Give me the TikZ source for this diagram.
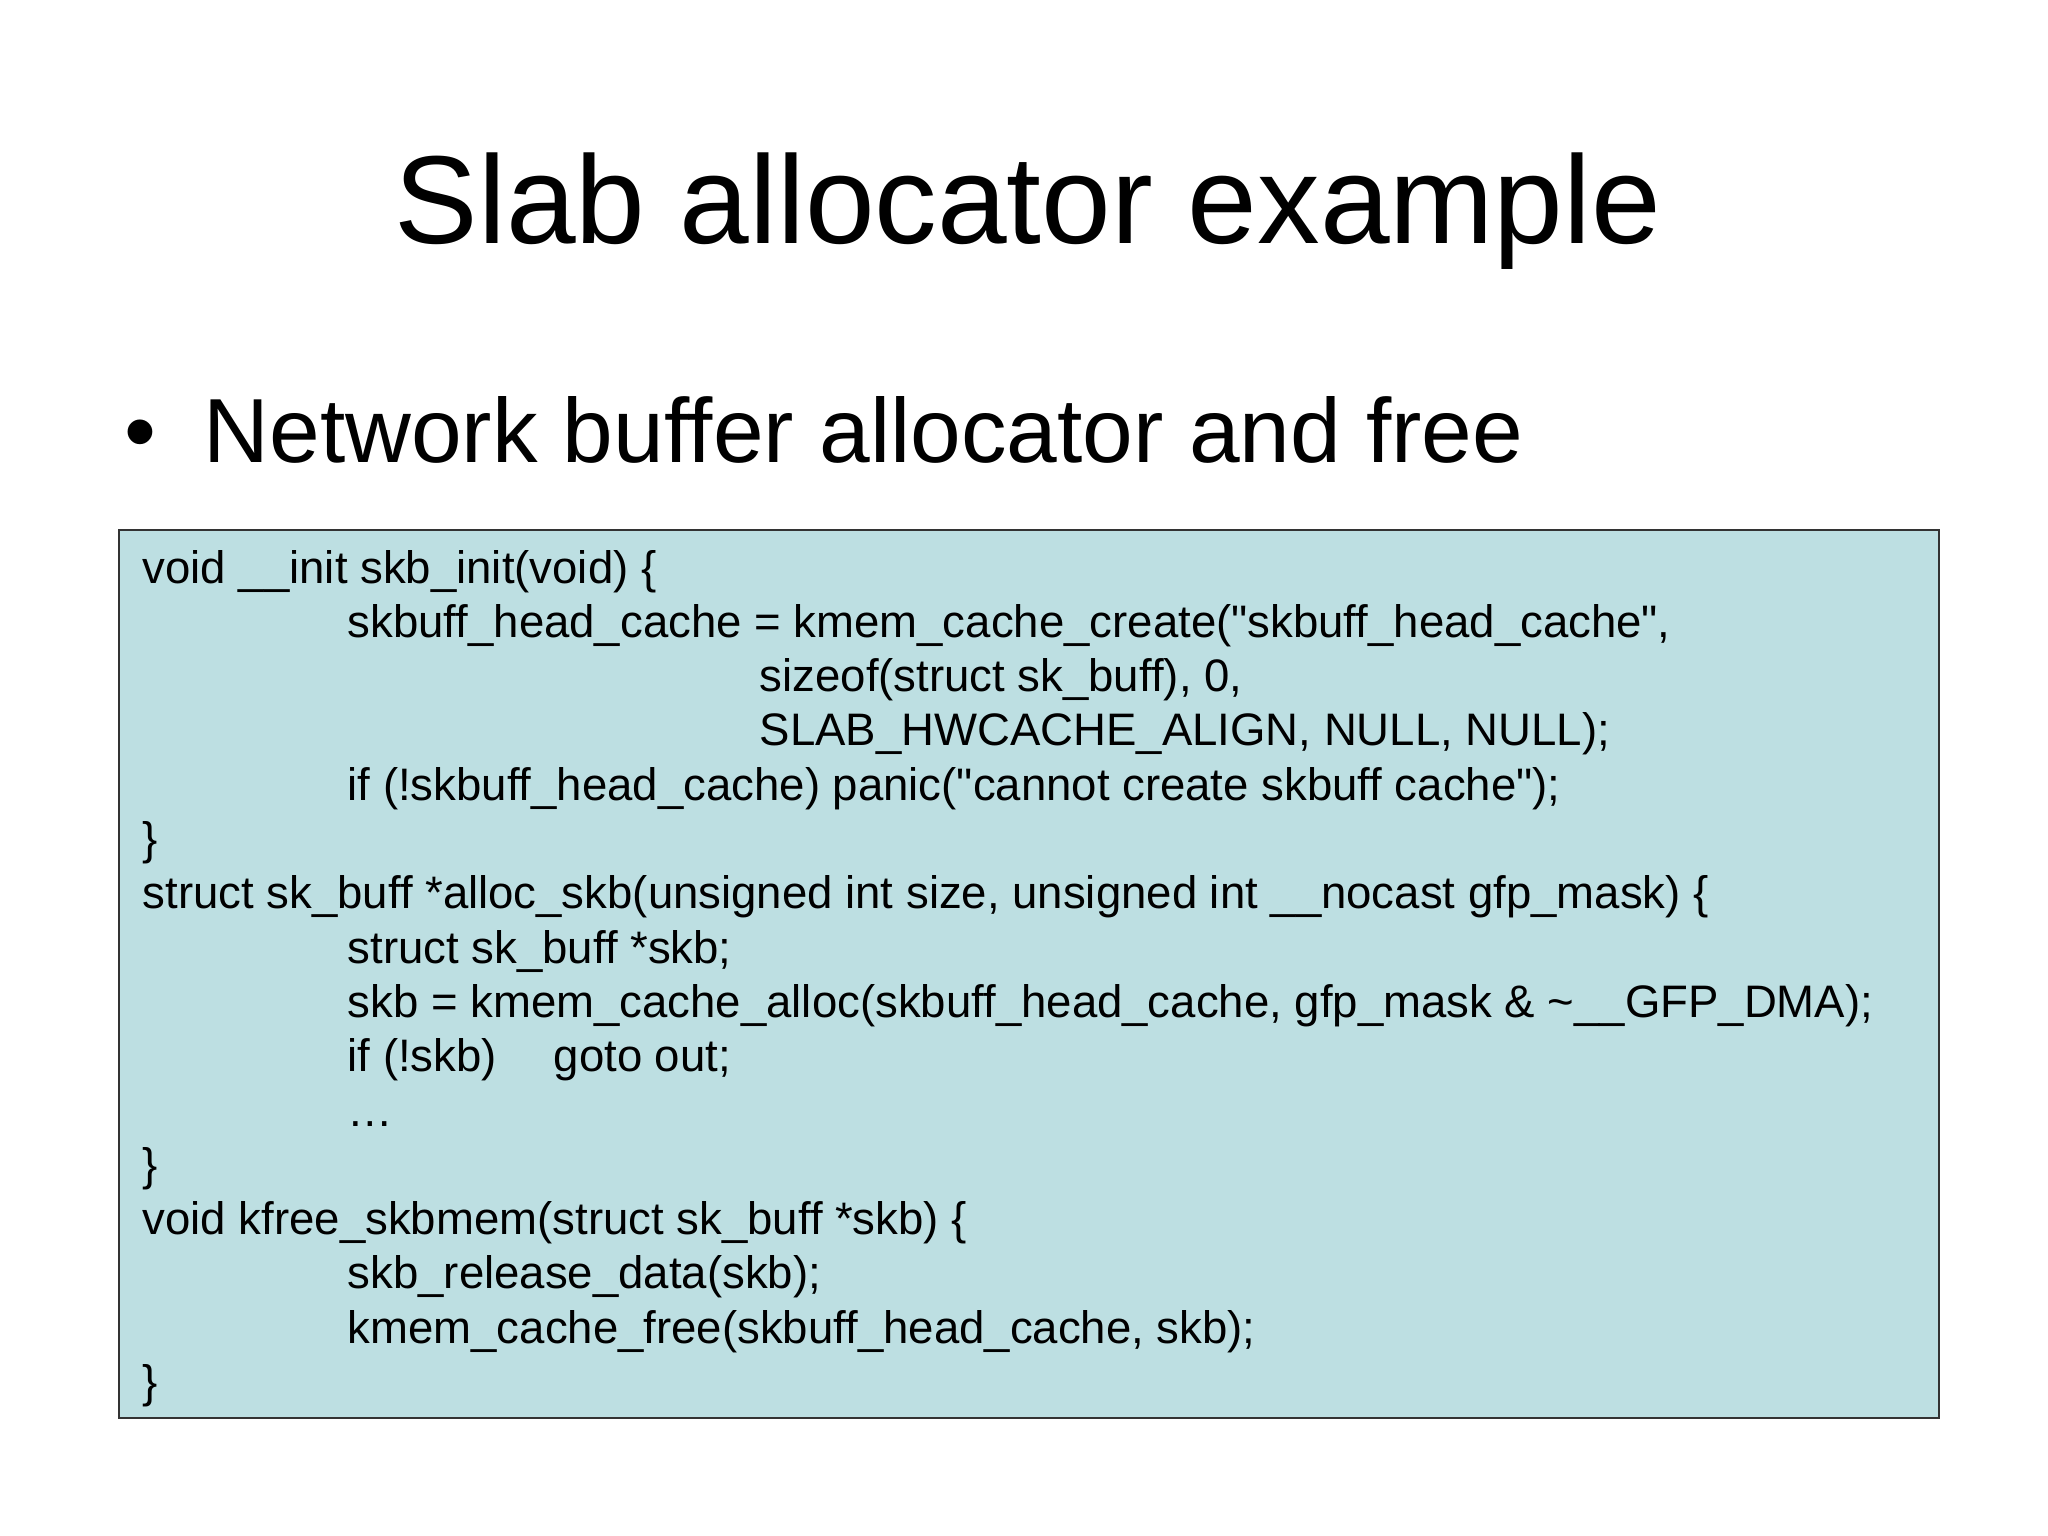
\documentclass[tikz,border=0pt]{standalone}
\usepackage{fontspec}
\setmainfont{Liberation Sans}
\definecolor{boxfill}{HTML}{BDDFE2}
\begin{document}
\begin{tikzpicture}[x=0.01cm,y=-0.01cm,
  code/.style={anchor=base west,inner sep=0pt,font=\fontsize{12.95}{15}\selectfont}]
\useasboundingbox[fill=white] (0,0) rectangle (2048,1536);
\node[anchor=base,inner sep=0pt,font=\fontsize{35.6}{43}\selectfont] (title) at (1028,243) {Slab allocator example};
\node[anchor=base west,inner sep=0pt,font=\fontsize{25.9}{31}\selectfont] (bullet) at (124,462) {•};
\node[anchor=base west,inner sep=0pt,font=\fontsize{25.9}{31}\selectfont] (sub) at (203,462) {Network buffer allocator and free};
\draw[fill=boxfill,draw=black!80,line width=0.6pt] (119,530) rectangle (1939,1418);
\def\L{54.3}
\def\q{\textquotedbl}
\node[code] (l1) at (142,583) {void \_\_init skb\_init(void) \{};
\node[code] (l2) at (347,583+\L) {skbuff\_head\_cache = kmem\_cache\_create(\q skbuff\_head\_cache\q,};
\node[code] (l3) at (759,583+2*\L) {sizeof(struct sk\_buff), 0,};
\node[code] (l4) at (759,583+3*\L) {SLAB\_HWCACHE\_ALIGN, NULL, NULL);};
\node[code] (l5) at (347,583+4*\L) {if (!skbuff\_head\_cache) panic(\q cannot create skbuff cache\q);};
\node[code] (l6) at (142,583+5*\L) {\}};
\node[code] (l7) at (142,583+6*\L) {struct sk\_buff *alloc\_skb(unsigned int size, unsigned int \_\_nocast gfp\_mask) \{};
\node[code] (l8) at (347,583+7*\L) {struct sk\_buff *skb;};
\node[code] (l9) at (347,583+8*\L) {skb = kmem\_cache\_alloc(skbuff\_head\_cache, gfp\_mask \& \textasciitilde\_\_GFP\_DMA);};
\node[code] (l10) at (347,583+9*\L) {if (!skb)};
\node[code] (l10b) at (553,583+9*\L) {goto out;};
\node[code] (l11) at (347,583+10*\L) {…};
\node[code] (l12) at (142,583+11*\L) {\}};
\node[code] (l13) at (142,583+12*\L) {void kfree\_skbmem(struct sk\_buff *skb) \{};
\node[code] (l14) at (347,583+13*\L) {skb\_release\_data(skb);};
\node[code] (l15) at (347,583+14*\L) {kmem\_cache\_free(skbuff\_head\_cache, skb);};
\node[code] (l16) at (142,583+15*\L) {\}};
\end{tikzpicture}
\end{document}
